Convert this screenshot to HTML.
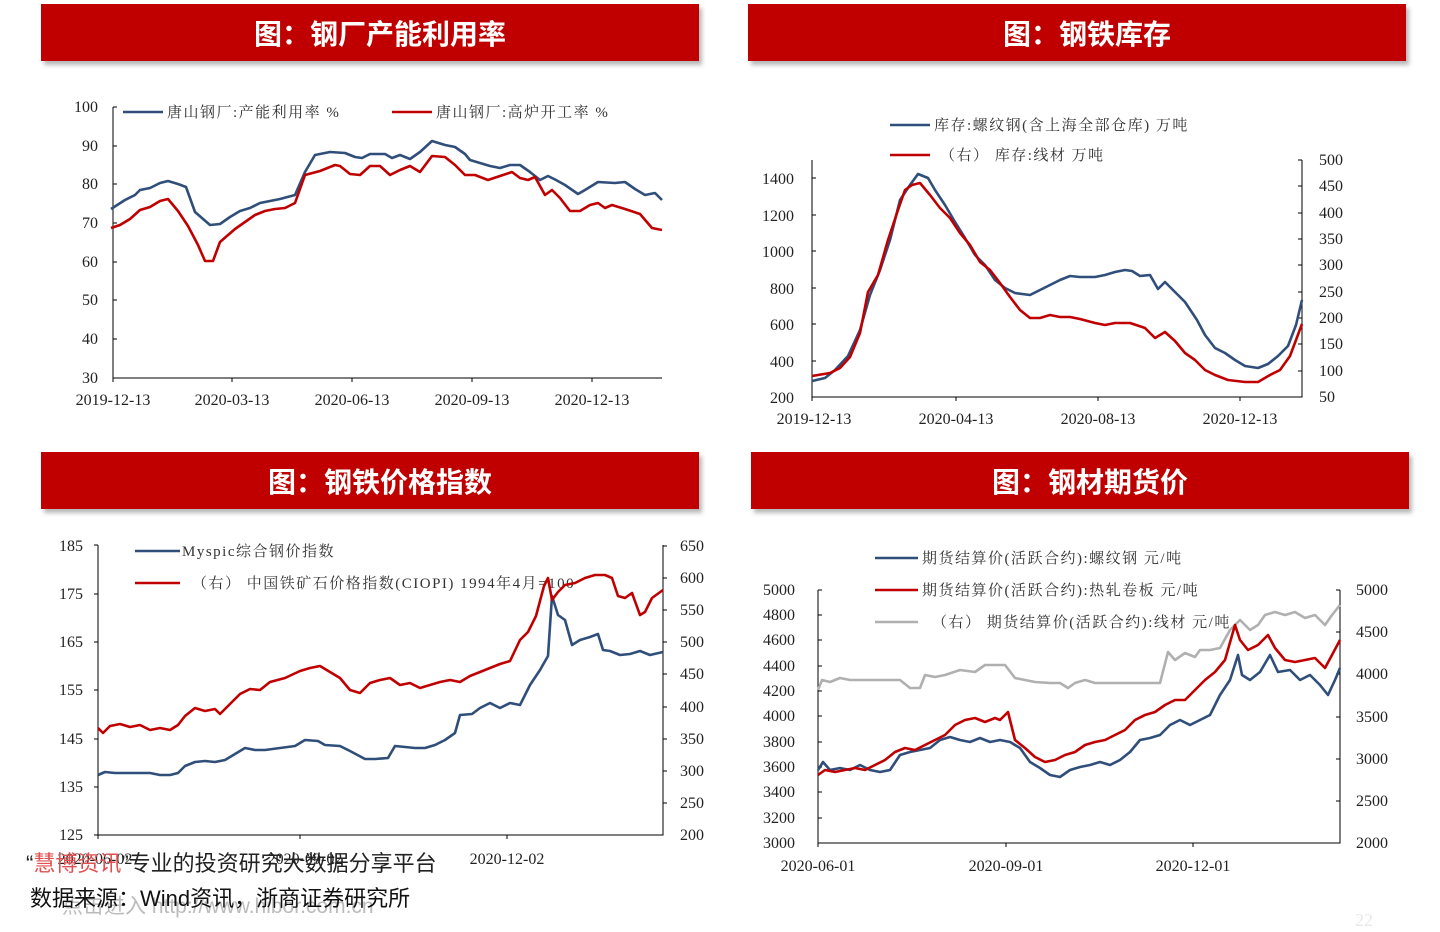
<!DOCTYPE html>
<html><head><meta charset="utf-8"><style>
body{margin:0;background:#fff;}
svg{display:block;font-family:"Liberation Serif","Noto Serif CJK SC",serif;}
.ban{fill:#c00000;}
.bt{fill:#fff;font-family:"Liberation Sans","Noto Sans CJK SC",sans-serif;font-weight:bold;font-size:28px;text-anchor:middle;}
.t{font-size:16px;fill:#222;}
.lg{font-size:15px;fill:#333;letter-spacing:1.5px;font-family:"Liberation Serif","Noto Serif CJK SC",serif;}
.ax{stroke:#000;stroke-width:1;fill:none;}
.b{stroke:#2f4e7a;stroke-width:2.6;fill:none;stroke-linejoin:round;}
.r{stroke:#c00000;stroke-width:2.6;fill:none;stroke-linejoin:round;}
.g{stroke:#b0b0b0;stroke-width:2.6;fill:none;stroke-linejoin:round;}
</style></head><body>
<svg width="1440" height="932" viewBox="0 0 1440 932">
<defs><filter id="sh" x="-5%" y="-20%" width="110%" height="160%"><feDropShadow dx="3" dy="4" stdDeviation="2" flood-color="#888" flood-opacity="0.6"/></filter></defs>
<rect class="ban" x="41" y="4" width="658" height="57" filter="url(#sh)"/><text class="bt" x="380" y="44">图：钢厂产能利用率</text>
<rect class="ban" x="748" y="4" width="658" height="57" filter="url(#sh)"/><text class="bt" x="1087" y="44">图：钢铁库存</text>
<rect class="ban" x="41" y="452" width="658" height="57" filter="url(#sh)"/><text class="bt" x="380" y="492">图：钢铁价格指数</text>
<rect class="ban" x="751" y="452" width="658" height="57" filter="url(#sh)"/><text class="bt" x="1090" y="492">图：钢材期货价</text>

<!-- Chart 1 -->
<path class="ax" d="M113 107V378H662M113 107h4M113 146h4M113 184h4M113 223h4M113 262h4M113 300h4M113 339h4M113 378h4M113 378v4M232 378v4M352 378v4M472 378v4M592 378v4"/>
<g class="t" text-anchor="end"><text x="98" y="112">100</text><text x="98" y="151">90</text><text x="98" y="189">80</text><text x="98" y="228">70</text><text x="98" y="267">60</text><text x="98" y="305">50</text><text x="98" y="344">40</text><text x="98" y="383">30</text></g>
<g class="t" text-anchor="middle"><text x="113" y="405">2019-12-13</text><text x="232" y="405">2020-03-13</text><text x="352" y="405">2020-06-13</text><text x="472" y="405">2020-09-13</text><text x="592" y="405">2020-12-13</text></g>
<line x1="123" y1="112" x2="163" y2="112" class="b"/><text class="lg" x="167" y="117">唐山钢厂:产能利用率 %</text>
<line x1="392" y1="112" x2="432" y2="112" class="r"/><text class="lg" x="436" y="117">唐山钢厂:高炉开工率 %</text>
<polyline class="b" points="111,209 125,200 135,195 140,190 150,188 160,183 168,181 178,184 186,187 195,212 210,225 220,224 230,217 240,211 250,208 260,203 280,199 295,195 305,172 315,155 330,152 345,153 355,157 362,158 370,154 385,154 392,158 400,155 410,159 420,152 432,141 445,145 455,147 465,154 470,160 480,163 490,166 500,168 510,165 520,165 530,172 540,180 548,176 556,180 565,185 578,194 585,190 598,182 615,183 625,182 635,189 645,195 655,193 662,200"/>
<polyline class="r" points="111,228 120,225 130,219 140,210 150,207 160,201 168,199 178,211 188,226 198,245 205,261 213,261 220,242 235,229 245,222 255,215 265,211 275,209 285,208 295,203 305,175 320,171 335,165 340,166 350,174 360,175 370,166 380,166 390,175 400,170 410,166 420,172 432,156 445,157 455,165 465,175 475,175 488,180 500,176 512,172 520,178 528,180 535,177 545,195 552,190 560,198 570,211 580,211 590,205 598,203 605,208 612,205 625,209 640,214 652,228 662,230"/>

<!-- Chart 2 -->
<path class="ax" d="M812 160V397H1302V160M812 178h4M812 215h4M812 251h4M812 288h4M812 324h4M812 361h4M812 397h4M1302 160h-4M1302 186h-4M1302 213h-4M1302 239h-4M1302 265h-4M1302 292h-4M1302 318h-4M1302 344h-4M1302 371h-4M812 397v4M956 397v4M1098 397v4M1240 397v4"/>
<g class="t" text-anchor="end"><text x="794" y="184">1400</text><text x="794" y="221">1200</text><text x="794" y="257">1000</text><text x="794" y="294">800</text><text x="794" y="330">600</text><text x="794" y="367">400</text><text x="794" y="403">200</text></g>
<g class="t"><text x="1319" y="165">500</text><text x="1319" y="191">450</text><text x="1319" y="218">400</text><text x="1319" y="244">350</text><text x="1319" y="270">300</text><text x="1319" y="297">250</text><text x="1319" y="323">200</text><text x="1319" y="349">150</text><text x="1319" y="376">100</text><text x="1319" y="402">50</text></g>
<g class="t" text-anchor="middle"><text x="814" y="424">2019-12-13</text><text x="956" y="424">2020-04-13</text><text x="1098" y="424">2020-08-13</text><text x="1240" y="424">2020-12-13</text></g>
<line x1="890" y1="125" x2="930" y2="125" class="b"/><text class="lg" x="934" y="130">库存:螺纹钢(含上海全部仓库) 万吨</text>
<line x1="890" y1="155" x2="930" y2="155" class="r"/><text class="lg" x="940" y="160">（右） 库存:线材 万吨</text>
<polyline class="b" points="812,381 825,378 835,370 848,356 860,330 870,295 880,270 890,240 900,200 910,185 918,174 928,178 935,190 945,205 955,222 965,238 975,255 985,265 995,280 1005,288 1015,293 1030,295 1040,290 1050,285 1060,280 1070,276 1080,277 1095,277 1105,275 1115,272 1125,270 1132,271 1140,276 1150,275 1158,289 1165,282 1175,292 1185,302 1197,320 1205,335 1215,348 1225,353 1235,360 1245,366 1258,368 1268,364 1278,356 1288,346 1296,325 1302,300"/>
<polyline class="r" points="812,376 830,373 840,368 850,357 860,333 868,292 878,275 888,240 898,210 905,190 912,185 920,183 930,195 940,208 950,218 960,233 970,245 980,262 990,270 1000,283 1010,297 1020,310 1030,318 1040,318 1050,315 1060,317 1070,317 1080,319 1095,323 1105,325 1115,323 1130,323 1145,328 1155,338 1165,332 1175,341 1185,353 1195,360 1205,370 1215,375 1228,380 1245,382 1258,382 1270,375 1280,370 1290,356 1296,340 1302,324"/>

<!-- Chart 3 -->
<path class="ax" d="M98 545V835H663V545M98 545h-4M98 594h-4M98 642h-4M98 690h-4M98 739h-4M98 787h-4M98 835h-4M663 546h4M663 578h4M663 610h4M663 642h4M663 674h4M663 707h4M663 739h4M663 771h4M663 803h4M98 835v4M300 835v4M507 835v4"/>
<g class="t" text-anchor="end"><text x="83" y="551">185</text><text x="83" y="599">175</text><text x="83" y="647">165</text><text x="83" y="695">155</text><text x="83" y="744">145</text><text x="83" y="792">135</text><text x="83" y="840">125</text></g>
<g class="t"><text x="680" y="551">650</text><text x="680" y="583">600</text><text x="680" y="615">550</text><text x="680" y="647">500</text><text x="680" y="679">450</text><text x="680" y="712">400</text><text x="680" y="744">350</text><text x="680" y="776">300</text><text x="680" y="808">250</text><text x="680" y="840">200</text></g>
<g class="t" text-anchor="middle"><text x="95" y="864">2020-06-02</text><text x="305" y="864">2020-09-02</text><text x="507" y="864">2020-12-02</text></g>
<line x1="135" y1="551" x2="180" y2="551" class="b"/><text class="lg" x="182" y="556">Myspic综合钢价指数</text>
<line x1="135" y1="583" x2="180" y2="583" class="r"/><text class="lg" x="192" y="588">（右） 中国铁矿石价格指数(CIOPI) 1994年4月=100</text>
<polyline class="b" points="98,775 105,772 115,773 125,773 140,773 150,773 160,775 170,775 178,773 185,766 195,762 205,761 215,762 225,760 235,754 245,748 255,750 265,750 280,748 295,746 305,740 318,741 325,745 340,746 350,751 365,759 375,759 388,758 395,746 405,747 415,748 425,748 435,745 445,740 455,733 460,715 472,714 480,708 490,703 500,708 510,703 520,705 530,685 540,670 548,656 552,596 558,615 565,620 572,645 580,640 590,637 598,634 603,650 610,651 620,655 630,654 640,651 650,655 663,652"/>
<polyline class="r" points="98,728 103,733 110,726 120,724 130,727 140,725 150,730 160,728 170,730 178,725 185,716 195,708 205,711 215,709 220,714 230,704 240,694 250,689 260,690 270,682 285,678 300,671 310,668 320,666 330,672 340,678 350,690 360,693 370,683 380,680 390,678 400,685 410,683 420,688 430,685 440,682 450,680 460,682 470,676 480,672 490,668 500,664 510,661 520,640 528,632 536,616 544,586 548,578 552,600 558,592 565,585 575,583 585,578 595,575 605,575 612,578 618,596 625,598 632,593 640,615 645,612 652,598 663,590"/>

<!-- Chart 4 -->
<path class="ax" d="M818 590V843H1340V590M818 590h4M818 615h4M818 640h4M818 666h4M818 691h4M818 716h4M818 742h4M818 767h4M818 792h4M818 818h4M818 843h4M1340 590h-4M1340 632h-4M1340 674h-4M1340 717h-4M1340 759h-4M1340 801h-4M818 843v4M1006 843v4M1193 843v4"/>
<g class="t" text-anchor="end"><text x="795" y="595">5000</text><text x="795" y="620">4800</text><text x="795" y="645">4600</text><text x="795" y="671">4400</text><text x="795" y="696">4200</text><text x="795" y="721">4000</text><text x="795" y="747">3800</text><text x="795" y="772">3600</text><text x="795" y="797">3400</text><text x="795" y="823">3200</text><text x="795" y="848">3000</text></g>
<g class="t"><text x="1356" y="595">5000</text><text x="1356" y="637">4500</text><text x="1356" y="679">4000</text><text x="1356" y="722">3500</text><text x="1356" y="764">3000</text><text x="1356" y="806">2500</text><text x="1356" y="848">2000</text></g>
<g class="t" text-anchor="middle"><text x="818" y="871">2020-06-01</text><text x="1006" y="871">2020-09-01</text><text x="1193" y="871">2020-12-01</text></g>
<line x1="875" y1="558" x2="918" y2="558" class="b"/><text class="lg" x="922" y="563">期货结算价(活跃合约):螺纹钢 元/吨</text>
<line x1="875" y1="590" x2="918" y2="590" class="r"/><text class="lg" x="922" y="595">期货结算价(活跃合约):热轧卷板 元/吨</text>
<line x1="875" y1="622" x2="918" y2="622" class="g"/><text class="lg" x="932" y="627">（右） 期货结算价(活跃合约):线材 元/吨</text>
<polyline class="g" points="818,690 822,680 830,682 840,678 850,680 870,680 890,680 900,680 910,688 920,688 925,675 935,677 945,675 960,670 975,672 985,665 995,665 1005,665 1015,678 1025,680 1035,682 1050,683 1060,683 1068,688 1075,683 1085,680 1095,683 1110,683 1130,683 1150,683 1160,683 1168,652 1175,660 1185,653 1195,657 1200,650 1210,650 1220,648 1230,630 1240,620 1250,630 1258,625 1265,615 1275,612 1285,615 1295,612 1305,618 1315,615 1325,625 1332,615 1340,605"/>
<polyline class="b" points="818,770 823,762 830,770 840,768 850,770 860,765 870,770 880,772 890,770 900,755 910,752 920,750 930,748 940,740 950,737 960,740 970,742 980,738 990,742 1000,740 1010,742 1020,748 1030,762 1040,768 1050,775 1060,777 1070,770 1080,767 1090,765 1100,762 1110,765 1120,760 1130,752 1140,740 1150,738 1160,735 1170,725 1180,720 1190,725 1200,720 1210,715 1220,695 1230,680 1238,655 1242,675 1250,680 1260,672 1270,655 1278,672 1290,670 1300,680 1310,675 1320,685 1328,695 1335,680 1340,668"/>
<polyline class="r" points="818,775 825,770 835,772 845,770 855,768 865,770 875,765 885,760 895,752 905,748 915,750 925,745 935,740 945,735 955,725 965,720 975,718 985,722 995,718 1000,720 1008,712 1015,740 1025,748 1035,757 1045,762 1055,760 1065,755 1075,752 1085,745 1095,742 1105,740 1115,735 1125,730 1135,720 1145,715 1155,712 1165,705 1175,700 1185,700 1195,690 1205,680 1215,672 1225,660 1235,625 1240,640 1248,650 1258,645 1268,635 1275,648 1285,660 1295,662 1305,660 1315,658 1325,668 1332,655 1340,640"/>

<!-- footer -->
<g font-family="Liberation Sans,Noto Sans CJK SC,sans-serif" font-size="22">
<text x="62" y="913" fill="#bbb" font-size="21">点击进入 http://www.hibor.com.cn</text>
<text x="26" y="871" fill="#222">“<tspan fill="#e05050">慧博资讯</tspan>”专业的投资研究大数据分享平台</text>
<text x="30" y="906" fill="#111">数据来源：Wind资讯，浙商证券研究所</text>
</g>
<text x="1355" y="926" font-size="18" fill="#e8e8e8">22</text>
</svg>
</body></html>
